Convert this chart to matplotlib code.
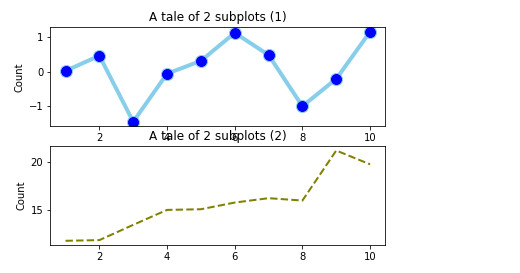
import matplotlib
matplotlib.use("Agg")
from matplotlib import pyplot as plt

x = [1, 2, 3, 4, 5, 6, 7, 8, 9, 10]
y_top = [0.02, 0.46, -1.45, -0.06, 0.31, 1.12, 0.48, -1.0, -0.21, 1.15]
y_bottom = [11.73, 11.8, 13.4, 14.97, 15.04, 15.74, 16.2, 15.95, 21.2, 19.75]

fig = plt.figure(figsize=(520 / 72, 273 / 72), dpi=72)

ax1 = fig.add_axes([50.3 / 520, 1 - 126.3 / 273, 335 / 520, 99 / 273])
ax1.plot(x, y_top, marker="o", markerfacecolor="blue", markersize=12,
         color="skyblue", linewidth=4)
ax1.set_title("A tale of 2 subplots (1)")
ax1.set_ylabel("Count")

ax2 = fig.add_axes([50.3 / 520, 1 - 245.3 / 273, 335 / 520, 99.3 / 273])
ax2.plot(x, y_bottom, color="olive", linestyle="--", linewidth=2)
ax2.set_title("A tale of 2 subplots (2)")
ax2.set_ylabel("Count")

fig.savefig("out.png", dpi=72)
